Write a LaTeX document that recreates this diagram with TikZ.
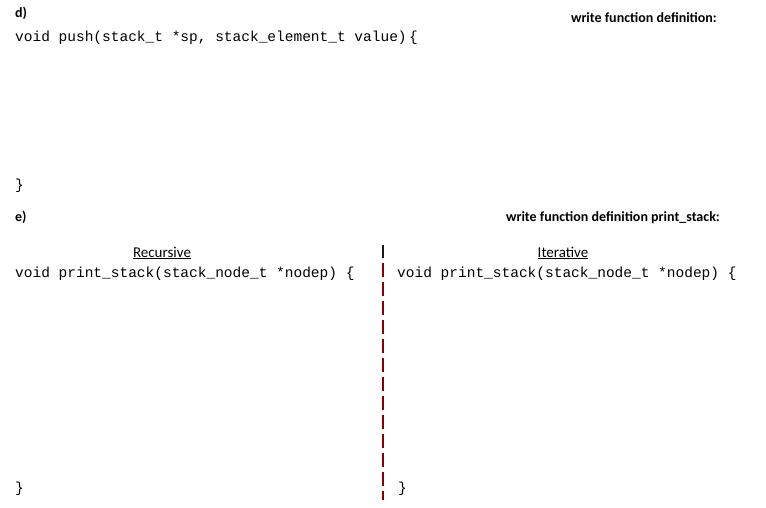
\documentclass[tikz,border=0pt]{standalone}
\usepackage{fontspec}
\setmainfont{Carlito}
\newfontfamily\codefont{Liberation Mono}
\begin{document}
\begin{tikzpicture}[x=1pt,y=-1pt,
  code/.style={anchor=west,inner sep=0pt,font=\codefont\fontsize{14.5}{16}\selectfont},
  lbl/.style={inner sep=0pt,font=\bfseries\fontsize{14}{16}\selectfont},
  head/.style={inner sep=0pt,font=\fontsize{15}{17}\selectfont}]
\useasboundingbox (0,0) rectangle (766,507);
\node[lbl,anchor=west] (d) at (15,13) {d)};
\node[lbl,anchor=east] (wd) at (717,18) {write function definition:};
\node[code] (push) at (15,38) {void push(stack\_t *sp, stack\_element\_t value)\,\{};
\node[code] (pushend) at (15,186) {\}};
\node[lbl,anchor=west] (e) at (15,217) {e)};
\node[lbl,anchor=east] (we) at (720,218) {write function definition print\_stack:};
\node[head] (rec) at (162,253) {\underline{Recursive}};
\node[head] (it) at (563,253) {\underline{Iterative}};
\node[code] (r1) at (15,274) {void print\_stack(stack\_node\_t *nodep) \{};
\node[code] (i1) at (397,274) {void print\_stack(stack\_node\_t *nodep) \{};
\node[code] (r2) at (15,489) {\}};
\node[code] (i2) at (398,489) {\}};
\coordinate (st) at (383,245);
\coordinate (en) at (383,500);
\draw[line width=1.2pt,color=black!90] (st) -- (383,258);
\draw[line width=1.2pt,color=red!50!black,dash pattern=on 14pt off 5pt] (383,263) -- (en);
\end{tikzpicture}
\end{document}
